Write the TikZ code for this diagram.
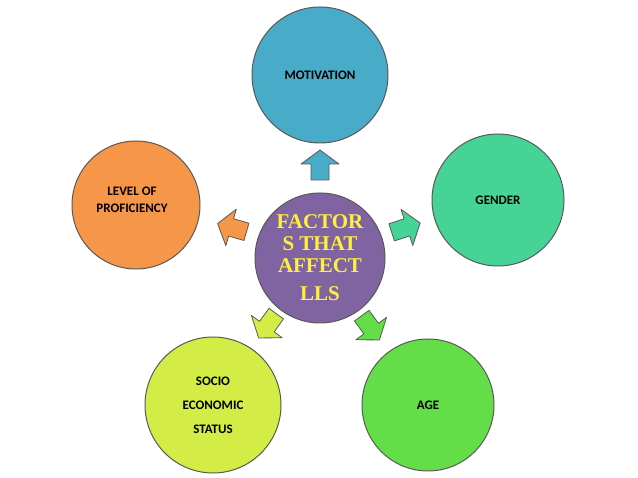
\documentclass[tikz,border=0pt]{standalone}
\usepackage{fontspec}
\setmainfont{Carlito}
\newfontfamily\serifb{Liberation Serif}
\begin{document}
\begin{tikzpicture}[x=1pt,y=1pt,
  bub/.style={circle,draw=gray!70!black,line width=1pt,inner sep=0pt,align=center,font=\bfseries\fontsize{13}{17}\selectfont},
  blk/.style={draw=gray!70!black,line width=0.8pt,line join=round}]
\useasboundingbox (0,0) rectangle (638,478);
\definecolor{cTop}{RGB}{72,172,200}
\definecolor{cLeft}{RGB}{246,150,72}
\definecolor{cRight}{RGB}{70,212,150}
\definecolor{cBL}{RGB}{212,236,70}
\definecolor{cBR}{RGB}{100,222,72}
\definecolor{cMid}{RGB}{128,100,162}
\definecolor{cTxt}{RGB}{255,240,60}
\node[bub,fill=cTop,minimum size=136pt] (mot) at (320,403) {MOTIVATION};
\node[bub,fill=cLeft,minimum size=128pt] (lev) at (136,273) {};
\node[font=\bfseries\fontsize{13}{17}\selectfont,align=center] (levt) at (132,278) {LEVEL OF\\PROFICIENCY};
\node[bub,fill=cRight,minimum size=132pt] (gen) at (498,278) {GENDER};
\node[bub,fill=cBL,minimum size=136pt,font=\bfseries\fontsize{13}{24}\selectfont] (soc) at (213,73) {SOCIO\\ECONOMIC\\STATUS};
\node[bub,fill=cBR,minimum size=132pt] (age) at (428,73) {AGE};
\node[bub,fill=cMid,minimum size=130pt,text=cTxt,font=\serifb\bfseries\fontsize{21}{22}\selectfont] (ctr) at (320,220) {FACTOR\\S THAT\\AFFECT\\[6pt]LLS};
\foreach \p/\a/\c in {{(320,312)}/90/cTop,{(233,250)}/164/cLeft,{(405,250)}/18/cRight,{(268,153)}/234/cBL,{(370,151)}/306/cBR}{
  \draw[blk,fill=\c,shift={\p},rotate=\a] (-14,-9) -- (2,-9) -- (2,-19) -- (16,0) -- (2,19) -- (2,9) -- (-14,9) -- cycle;
}
\end{tikzpicture}
\end{document}
